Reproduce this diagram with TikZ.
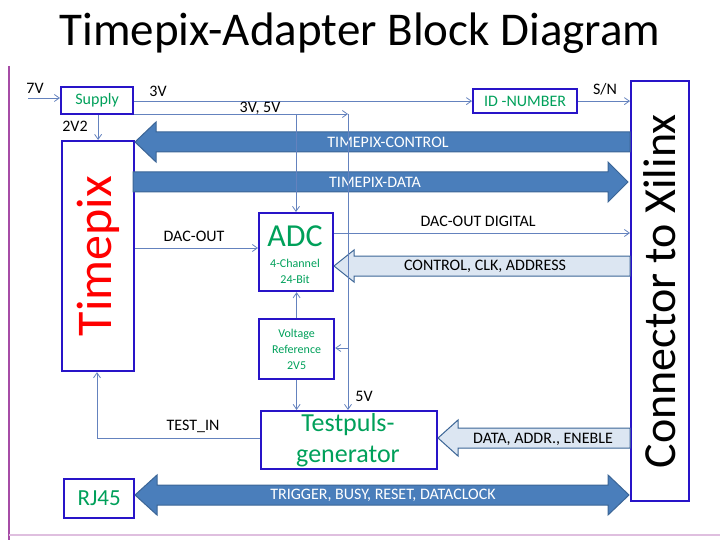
\documentclass[tikz,border=0pt]{standalone}
\usepackage{fontspec}
\setmainfont{Carlito}
\usetikzlibrary{arrows.meta}
\definecolor{boxblue}{RGB}{40,20,200}
\definecolor{fatblue}{RGB}{74,126,187}
\definecolor{lightfill}{RGB}{220,230,242}
\definecolor{txtgreen}{RGB}{0,160,90}
\definecolor{linecol}{RGB}{100,130,190}
\newcommand{\fs}[1]{\fontsize{#1}{#1}\selectfont}
\begin{document}
\begin{tikzpicture}[x=1pt,y=-1pt,
  block/.style={draw=boxblue, line width=2.2pt, text=txtgreen, align=center, inner sep=0pt},
  wire/.style={draw=linecol, line width=0.8pt, -{Straight Barb[length=5pt,width=7pt]}},
  plain/.style={draw=linecol, line width=0.8pt},
  lbl/.style={font=\fs{16}, inner sep=1pt},
  fat/.style={draw=fatblue!80!black, fill=fatblue, line width=1pt},
  thin/.style={draw=fatblue!80!black, fill=lightfill, line width=1pt}]
\useasboundingbox (0,0) rectangle (720,540);
% frame
\draw[draw=violet!70, line width=2pt] (9,66) -- (9,540);
\draw[draw=violet!25, line width=2pt] (9,535) -- (720,535);
% title
\node (title) [font=\fs{47}] at (360,33) {Timepix-Adapter Block Diagram};

% blocks
\node (supply) [block, font=\fs{16}, minimum width=72, minimum height=27, anchor=north west] at (60,86) {Supply};
\node (id) [block, font=\fs{16}, minimum width=104, minimum height=24, anchor=north west] at (472,88) {ID -NUMBER};
\node (xil) [block, minimum width=58, minimum height=420, anchor=north west] at (630,80) {};
\node[rotate=90, font=\fs{46}] at (xil.center) {Connector to Xilinx};
\node (tpx) [block, minimum width=72, minimum height=230, anchor=north west] at (61,140) {};
\node[rotate=90, text=red, font=\fs{50}] at (tpx.center) {Timepix};
\node (adc) [block, minimum width=74, minimum height=78, anchor=north west] at (258,212) {};
\node[text=txtgreen, font=\fs{32}] at (295,236) {ADC};
\node[text=txtgreen, align=center, font=\fs{12}] at (295,271) {4-Channel\\[4pt]24-Bit};
\node (vref) [block, font=\fs{12}, minimum width=75, minimum height=60, anchor=north west] at (258,318) {Voltage\\[4pt]Reference\\[4pt]2V5};
\node (tp) [block, minimum width=176, minimum height=58, anchor=north west] at (260,410) {};
\node[text=txtgreen, align=center, font=\fs{26}] at (348,440) {Testpuls-\\[5pt]generator};
\node (rj) [block, font=\fs{23}, minimum width=70, minimum height=39, anchor=north west] at (63,478) {RJ45};

% fat arrows
\draw[fat] (630,132) -- (156,132) -- (156,122) -- (135,142) -- (156,162) -- (156,152) -- (630,152) -- cycle;
\node (ctl) [text=white, font=\fs{16}] at (388,142) {TIMEPIX-CONTROL};
\draw[fat] (133,172) -- (608,172) -- (608,162) -- (628,182) -- (608,202) -- (608,192) -- (133,192) -- cycle;
\node (dat) [text=white, font=\fs{16}] at (375,182) {TIMEPIX-DATA};
\draw[thin] (630,256) -- (354,256) -- (354,250) -- (334,266) -- (354,282) -- (354,276) -- (630,276) -- cycle;
\node (cca) [font=\fs{16}] at (485,266) {CONTROL, CLK, ADDRESS};
\draw[thin] (630,428) -- (458,428) -- (458,420) -- (438,438) -- (458,456) -- (458,448) -- (630,448) -- cycle;
\node (dae) [font=\fs{16}] at (543,439) {DATA, ADDR., ENEBLE};
\draw[fat] (157,485) -- (608,485) -- (608,475) -- (629,495) -- (608,515) -- (608,505) -- (157,505) -- (157,515) -- (135,495) -- (157,475) -- cycle;
\node (trg) [text=white, font=\fs{16}] at (383,495) {TRIGGER, BUSY, RESET, DATACLOCK};

% power wires
\coordinate (in7) at (28,98);
\coordinate (v35) at (348,114);
\coordinate (ja) at (296,114);
\coordinate (jb) at (348,348);
\draw[wire] (in7) -- (supply.west |- in7);
\node[lbl] at (35,88) {7V};
\draw[wire] (supply.east |- id.west) -- (id.west);
\node[lbl] at (158,91) {3V};
\draw[wire] (id.east) -- (xil.west |- id.east);
\node[lbl] at (605,89) {S/N};
\draw[wire] (supply.east |- v35) -- (v35);
\node[lbl] at (260,108) {3V, 5V};
\draw[wire] (ja) -- (adc.north -| ja);
\draw[wire] (v35) -- (tp.north -| v35);
\draw[wire] (jb) -- (vref.east |- jb);
\node[lbl] at (364,396) {5V};
\draw[wire] (supply.south -| tpx.center) -- (tpx.north);
\node[lbl] at (75,126) {2V2};
\draw[wire] (vref.north) -- (adc.south -| vref.north);
\draw[wire] (vref.south) -- (tp.north -| vref.south);

% signal wires
\draw[wire] (tpx.east |- 0,248) -- (adc.west |- 0,248);
\node[lbl] at (194,236) {DAC-OUT};
\draw[wire] (adc.east |- 0,233) -- (xil.west |- 0,233);
\node[lbl] at (478,221) {DAC-OUT DIGITAL};
\draw[plain] (tp.west |- 0,438) -- (97,438);
\draw[wire] (97,438) -- (tpx.south -| 97,0);
\node[lbl] at (193,426) {TEST\_IN};
\end{tikzpicture}
\end{document}
